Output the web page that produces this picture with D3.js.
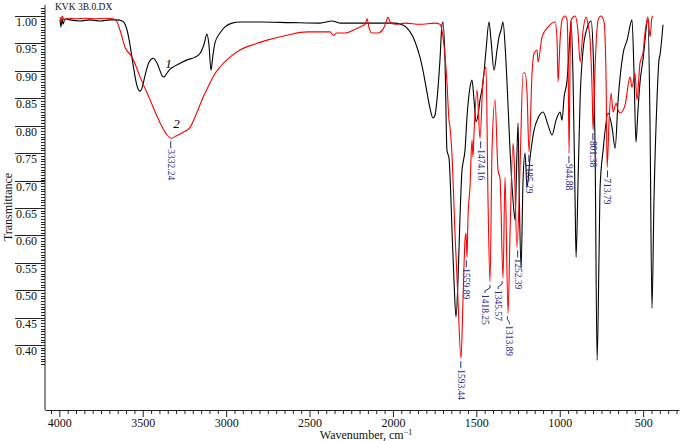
<!DOCTYPE html>
<html>
<head>
<meta charset="utf-8">
<script src="https://cdn.jsdelivr.net/npm/d3@7"></script>
<style>
    body { margin: 0; background: #fff; }
    svg { display: block; font-family: "Liberation Serif", "Times New Roman", serif; }
</style>
</head>
<body>
<div id="chart"></div>
<script>
// spectrum 1 (black), wavenumber / transmittance
const wn1 = [3996, 3990, 3984, 3978, 3966, 3936, 3876, 3816, 3756, 3696,
    3654, 3624, 3606, 3594, 3576, 3558, 3540, 3528, 3516, 3504,
    3486, 3462, 3438, 3414, 3396, 3384, 3372, 3354, 3336, 3306,
    3276, 3234, 3186, 3156, 3132, 3115, 3103, 3091, 3079, 3067,
    3037, 3007, 2965, 2917, 2797, 2617, 2437, 2365, 2317, 2197,
    2077, 1987, 1945, 1915, 1880, 1856, 1838, 1820, 1796, 1778,
    1760, 1748, 1736, 1718, 1706, 1700, 1688, 1676, 1664, 1652,
    1646, 1634, 1622, 1610, 1598, 1586, 1580, 1568, 1556, 1538,
    1526, 1514, 1502, 1490, 1478, 1460, 1442, 1424, 1412, 1394,
    1376, 1364, 1352, 1340, 1328, 1316, 1298, 1280, 1268, 1262,
    1250, 1244, 1232, 1220, 1208, 1196, 1178, 1154, 1130, 1100,
    1070, 1046, 1022, 998, 986, 974, 956, 944, 932, 920,
    908, 902, 890, 878, 860, 836, 812, 800, 788, 776,
    764, 758, 740, 710, 686, 668, 650, 620, 596, 567,
    555, 543, 531, 519, 501, 471, 459, 447, 435, 417,
    405, 399, 381];
const tr1 = [0.993, 0.980, 0.996, 0.985, 0.995, 0.993, 0.991, 0.993, 0.991, 0.993,
    0.993, 0.991, 0.985, 0.974, 0.947, 0.911, 0.880, 0.867, 0.863, 0.869,
    0.892, 0.916, 0.923, 0.914, 0.900, 0.891, 0.889, 0.896, 0.903, 0.909,
    0.914, 0.920, 0.925, 0.932, 0.949, 0.967, 0.947, 0.901, 0.929, 0.951,
    0.969, 0.980, 0.987, 0.989, 0.989, 0.988, 0.987, 0.991, 0.987, 0.987,
    0.987, 0.987, 0.984, 0.978, 0.962, 0.943, 0.925, 0.901, 0.861, 0.832,
    0.814, 0.819, 0.847, 0.920, 0.984, 0.989, 0.920, 0.755, 0.741, 0.664,
    0.609, 0.518, 0.451, 0.518, 0.633, 0.719, 0.732, 0.755, 0.816, 0.870,
    0.883, 0.847, 0.807, 0.819, 0.847, 0.878, 0.938, 0.989, 0.956, 0.901,
    0.938, 0.962, 0.974, 0.989, 0.947, 0.878, 0.755, 0.664, 0.628, 0.682,
    0.805, 0.700, 0.540, 0.700, 0.750, 0.688, 0.741, 0.792, 0.814, 0.825,
    0.801, 0.783, 0.810, 0.825, 0.810, 0.852, 0.883, 0.938, 0.991, 0.883,
    0.664, 0.560, 0.701, 0.847, 0.938, 0.978, 0.991, 0.938, 0.755, 0.372,
    0.573, 0.688, 0.755, 0.823, 0.796, 0.759, 0.847, 0.932, 0.956, 0.993,
    0.901, 0.770, 0.828, 0.878, 0.920, 0.993, 0.810, 0.467, 0.664, 0.847,
    0.920, 0.929, 0.984];

// spectrum 2 (red)
const wn2 = [3996, 3990, 3984, 3972, 3948, 3906, 3846, 3786, 3726, 3678,
    3654, 3636, 3606, 3564, 3516, 3456, 3396, 3354, 3330, 3300,
    3258, 3216, 3174, 3138, 3109, 3073, 3037, 2977, 2917, 2827,
    2755, 2635, 2515, 2377, 2359, 2335, 2287, 2239, 2197, 2167,
    2155, 2143, 2125, 2089, 2059, 2041, 2029, 2017, 1987, 1927,
    1838, 1748, 1718, 1700, 1676, 1664, 1658, 1646, 1628, 1610,
    1592, 1580, 1568, 1562, 1556, 1550, 1538, 1526, 1520, 1514,
    1496, 1478, 1460, 1442, 1430, 1418, 1406, 1388, 1370, 1358,
    1340, 1328, 1310, 1298, 1280, 1274, 1256, 1238, 1220, 1208,
    1196, 1184, 1166, 1154, 1136, 1130, 1106, 1070, 1028, 1016,
    1010, 998, 986, 968, 956, 950, 944, 938, 932, 908,
    890, 878, 860, 842, 830, 818, 806, 800, 788, 770,
    752, 734, 722, 716, 704, 692, 680, 662, 650, 638,
    608, 579, 567, 549, 537, 519, 501, 489, 471, 459,
    447, 441];
const tr2 = [0.998, 0.989, 1.000, 0.993, 0.996, 0.995, 0.996, 0.995, 0.996, 0.995,
    0.989, 0.974, 0.943, 0.925, 0.889, 0.847, 0.805, 0.783, 0.777, 0.781,
    0.788, 0.797, 0.825, 0.852, 0.870, 0.892, 0.907, 0.925, 0.938, 0.949,
    0.956, 0.965, 0.971, 0.971, 0.965, 0.969, 0.969, 0.974, 0.980, 0.985,
    0.995, 0.978, 0.969, 0.969, 0.976, 0.989, 0.998, 0.989, 0.985, 0.987,
    0.985, 0.987, 0.985, 0.962, 0.878, 0.810, 0.797, 0.746, 0.604, 0.482,
    0.376, 0.482, 0.591, 0.604, 0.560, 0.633, 0.688, 0.774, 0.743, 0.786,
    0.865, 0.777, 0.883, 0.907, 0.664, 0.515, 0.755, 0.847, 0.719, 0.704,
    0.522, 0.706, 0.458, 0.604, 0.768, 0.743, 0.578, 0.724, 0.896, 0.896,
    0.859, 0.752, 0.896, 0.932, 0.938, 0.916, 0.962, 0.980, 0.989, 0.956,
    0.880, 0.956, 0.993, 1.000, 0.993, 0.920, 0.750, 0.920, 0.993, 1.000,
    0.969, 0.916, 0.974, 0.998, 0.984, 0.956, 0.865, 0.792, 0.907, 0.993,
    1.000, 0.989, 0.878, 0.724, 0.810, 0.859, 0.825, 0.841, 0.828, 0.823,
    0.838, 0.889, 0.870, 0.896, 0.847, 0.914, 0.932, 0.969, 0.998, 0.962,
    0.998, 1.000];

// peak labels on spectrum 2
const peakLabels = ["3332.24", "1593.44", "1559.89", "1474.16", "1418.25", "1345.57",
    "1313.89", "1252.39", "1185.29", "944.88", "801.38", "713.79"];
const peakShift = [0, 0, 0, 0, -5, -4, 2, 0, 0, 0, 0, 0]; // px, label offset from peak

const xTickValues = [4000, 3500, 3000, 2500, 2000, 1500, 1000, 500];
const yTickValues = [1.00, 0.95, 0.90, 0.85, 0.80, 0.75, 0.70, 0.65, 0.60, 0.55, 0.50, 0.45, 0.40];

const width = 685,
    height = 441;
const plot = { left: 45, right: 679, top: 5, bottom: 410 };

const svg = d3
    .select("#chart")
    .append("svg")
    .attr("width", width)
    .attr("height", height);

const x = d3.scaleLinear().domain([4086, 285]).range([plot.left, plot.right]);
const y = d3.scaleLinear().domain([1.0, 0.4]).range([16, 345]);

// x axis: minor every 50, major every 500
const xMinor = d3.range(300, 4051, 50).filter((d) => d % 500 !== 0);
svg.append("g")
    .attr("transform", `translate(0, ${plot.bottom})`)
    .call(d3.axisBottom(x).tickValues(xMinor).tickSize(4).tickSizeOuter(0).tickFormat(""))
    .call((g) => g.selectAll("line").attr("stroke", "#222"))
    .call((g) => g.select(".domain").attr("stroke", "#222"));

svg.append("g")
    .attr("transform", `translate(0, ${plot.bottom})`)
    .call(
        d3.axisBottom(x)
            .tickValues(xTickValues)
            .tickSize(7)
            .tickSizeOuter(0)
            .tickPadding(1)
            .tickFormat(d3.format("d"))
    )
    .call((g) => g.select(".domain").remove())
    .call((g) => g.selectAll("line").attr("stroke", "#222"))
    .call((g) =>
        g.selectAll("text")
            .attr("font-family", "Liberation Serif")
            .attr("font-size", 12)
            .attr("fill", "#111")
    );

// y axis
svg.append("line")
    .attr("x1", plot.left).attr("x2", plot.left)
    .attr("y1", plot.top).attr("y2", plot.bottom)
    .attr("stroke", "#222");

const yMinor = d3.range(73, 204).map((i) => i * 0.005);
svg.append("g")
    .selectAll("line")
    .data(yMinor)
    .join("line")
    .attr("x1", plot.left - 4)
    .attr("x2", plot.left)
    .attr("y1", (d) => Math.round(y(d)) + 0.5)
    .attr("y2", (d) => Math.round(y(d)) + 0.5)
    .attr("stroke", "#222");

const yMajor = svg.append("g").selectAll("g").data(yTickValues).join("g");
yMajor.append("line")
    .attr("x1", 15)
    .attr("x2", plot.left)
    .attr("y1", (d) => Math.round(y(d)) + 0.5)
    .attr("y2", (d) => Math.round(y(d)) + 0.5)
    .attr("stroke", "#222");
yMajor.append("text")
    .attr("x", 16)
    .attr("y", (d) => y(d) + 10)
    .attr("font-size", 12)
    .attr("fill", "#111")
    .text((d) => d3.format(".2f")(d));

// axis titles
const xTitle = svg.append("text")
    .attr("x", 366)
    .attr("y", 439)
    .attr("text-anchor", "middle")
    .attr("font-size", 12)
    .attr("fill", "#111")
    .text("Wavenumber, cm");
xTitle.append("tspan").attr("dy", -4).attr("font-size", 8).text("\u22121");

svg.append("text")
    .attr("transform", "translate(12, 207) rotate(-90)")
    .attr("text-anchor", "middle")
    .attr("font-size", 12)
    .attr("fill", "#111")
    .text("Transmittance");

svg.append("text")
    .attr("x", 55)
    .attr("y", 10)
    .attr("font-size", 9.5)
    .attr("fill", "#111")
    .text("KVK 3B.0.DX");

// spectra
svg.append("defs")
    .append("clipPath")
    .attr("id", "clip")
    .append("rect")
    .attr("x", plot.left + 1)
    .attr("y", 0)
    .attr("width", plot.right - plot.left)
    .attr("height", plot.bottom);

const line = d3
    .line()
    .x((d) => x(d[0]))
    .y((d) => y(d[1]))
    .curve(d3.curveMonotoneX);

const curves = svg.append("g").attr("clip-path", "url(#clip)");
curves.append("path")
    .datum(d3.zip(wn1, tr1))
    .attr("fill", "none")
    .attr("stroke", "#000")
    .attr("stroke-width", 1.1)
    .attr("d", line);
curves.append("path")
    .datum(d3.zip(wn2, tr2))
    .attr("fill", "none")
    .attr("stroke", "#ff0000")
    .attr("stroke-width", 1.1)
    .attr("d", line);

// curve numbers
svg.append("text")
    .attr("x", x(3345)).attr("y", y(0.906))
    .attr("text-anchor", "middle")
    .attr("font-size", 13).attr("font-style", "italic")
    .text("1");
svg.append("text")
    .attr("x", x(3298)).attr("y", y(0.795))
    .attr("text-anchor", "middle")
    .attr("font-size", 13).attr("font-style", "italic")
    .text("2");

// peak annotations
const labelColor = "#2e2e8f";
peakLabels.forEach((label, i) => {
    const wn = +label;
    const near = d3.zip(wn2, tr2).filter((d) => Math.abs(d[0] - wn) <= 7);
    const t = d3.min(near, (d) => d[1]);
    const px = x(wn),
        py = y(t);
    const dx = peakShift[i];
    const tx = px + dx;
    let top;
    if (dx === 0) {
        svg.append("line")
            .attr("x1", px).attr("x2", px)
            .attr("y1", py + 3).attr("y2", py + 10)
            .attr("stroke", labelColor);
        top = py + 11;
    } else {
        svg.append("path")
            .attr("d", `M${px},${py + 3}L${px},${py + 6}L${tx},${py + 9}L${tx},${py + 11}`)
            .attr("fill", "none")
            .attr("stroke", labelColor);
        top = py + 12;
    }
    svg.append("text")
        .attr("transform", `translate(${tx}, ${top}) rotate(90)`)
        .attr("dy", "0.33em")
        .attr("font-size", 9.5)
        .attr("fill", labelColor)
        .text(label);
});
</script>
</body>
</html>
